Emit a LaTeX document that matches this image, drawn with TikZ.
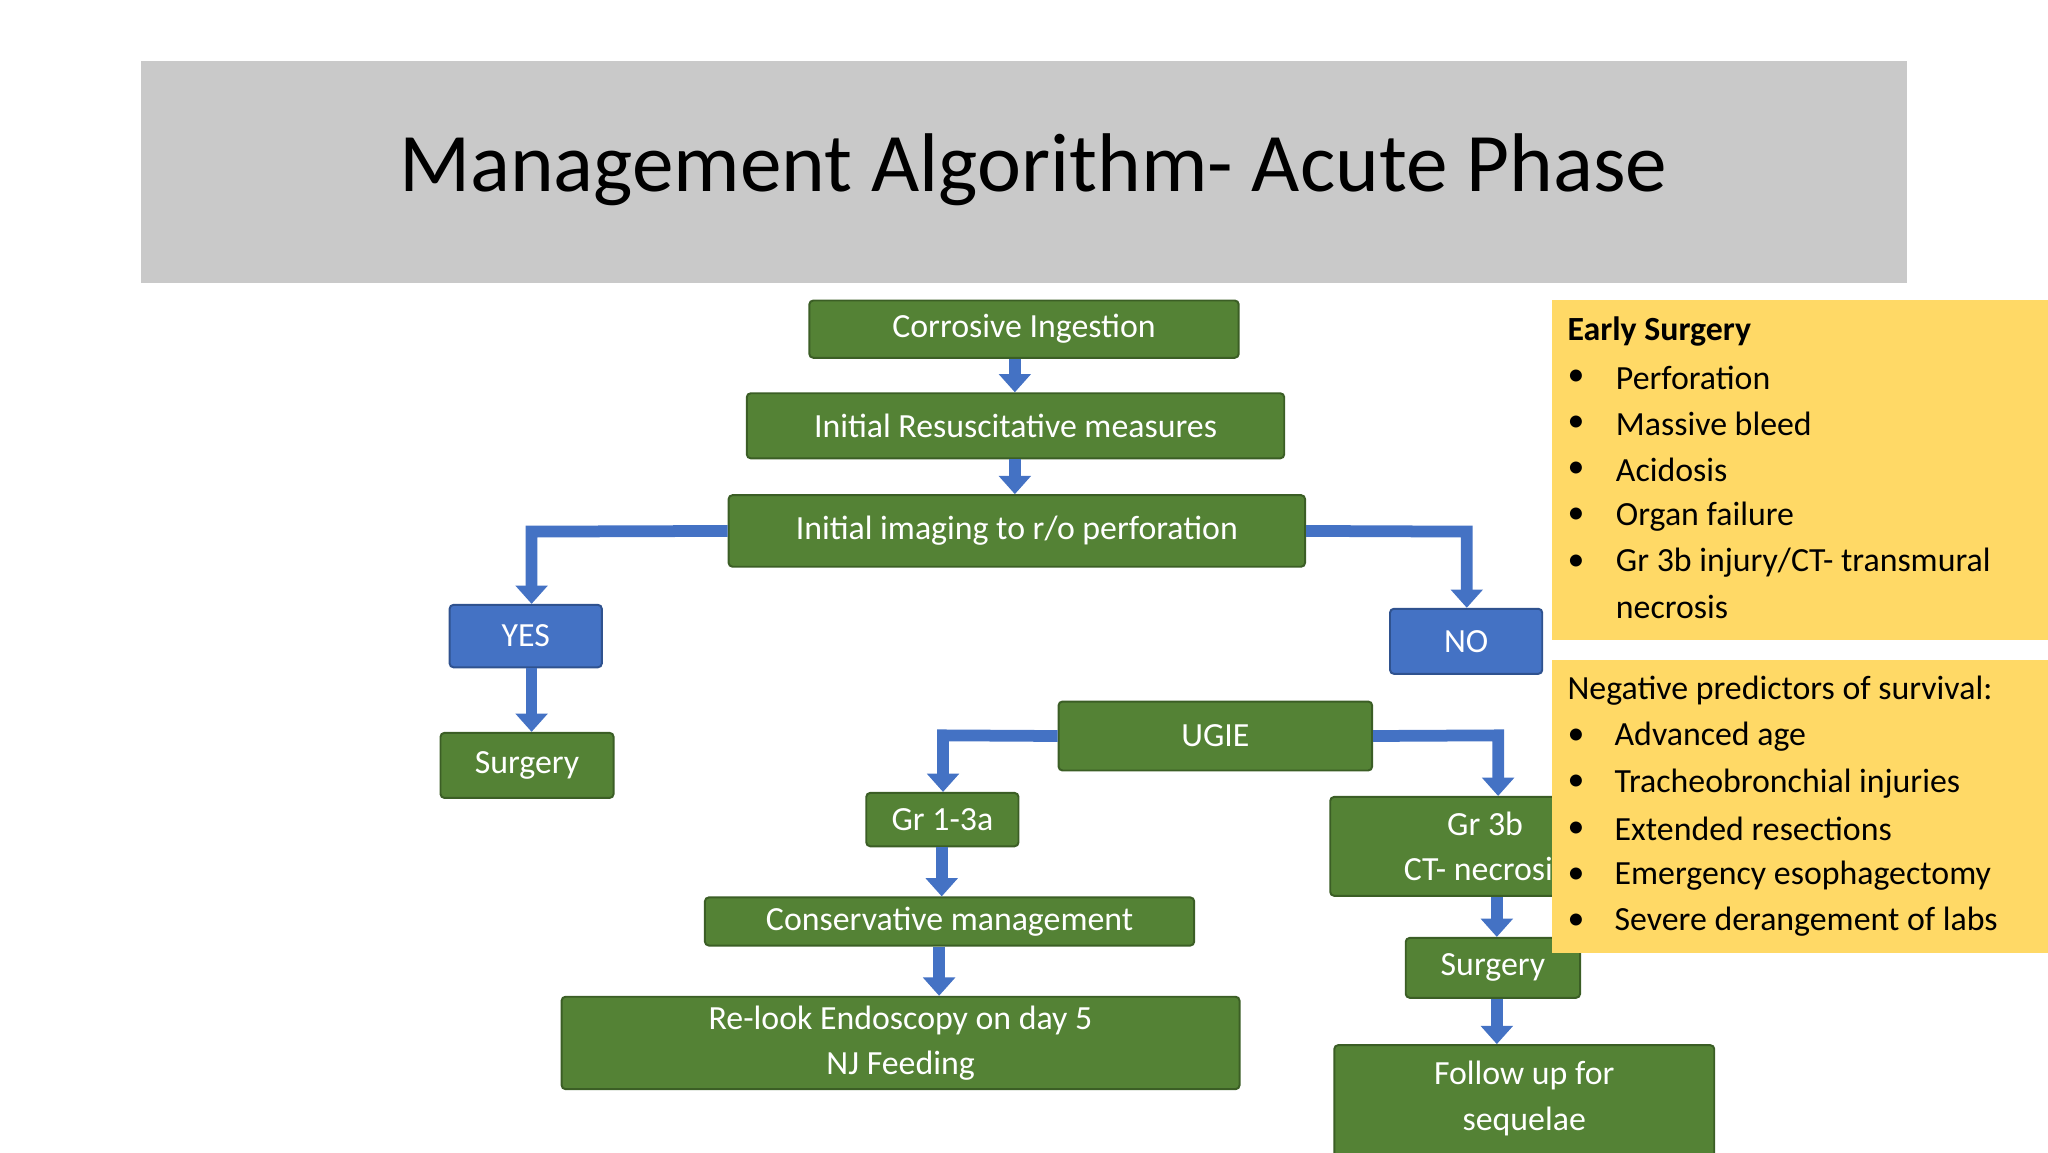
\documentclass[tikz,border=0pt]{standalone}
\usepackage{fontspec}
\setmainfont{Carlito}
\usetikzlibrary{arrows.meta}
\definecolor{gbox}{HTML}{548235}
\definecolor{gline}{HTML}{3B5E25}
\definecolor{bbox}{HTML}{4472C4}
\definecolor{bline}{HTML}{2F528F}
\definecolor{ybox}{HTML}{FFD966}
\definecolor{tbox}{HTML}{C9C9C9}
\begin{document}
\begin{tikzpicture}[x=1bp,y=-1bp,
  box/.style={draw=gline,line width=1.5bp,fill=gbox,rounded corners=3bp,text=white,font=\fontsize{26}{34}\selectfont,align=center,inner sep=0},
  bl/.style={box,draw=bline,fill=bbox},
  arr/.style={draw=bbox,line width=9bp,-{Triangle[width=24bp,length=14bp]}},
  yt/.style={anchor=west,font=\fontsize{26}{30}\selectfont,inner sep=0}]
\useasboundingbox (0,0) rectangle (1568,882);
\clip (0,0) rectangle (1568,882);
\fill[tbox] (108,47) rectangle (1460,217);
\node[font=\fontsize{64}{70}\selectfont] (title) at (791,130) {Management Algorithm- Acute Phase};
\newcommand{\bx}[6]{\node[#1,minimum width=#4-#2,minimum height=#5-#3] (#6) at ({(#2+#4)/2},{(#3+#5)/2}) {};}
\bx{box}{619}{230}{949}{274}{ci} \node[text=white,font=\fontsize{26}{34}\selectfont] at (ci) {Corrosive Ingestion};
\bx{box}{571}{301}{984}{351}{ir} \node[text=white,font=\fontsize{26}{34}\selectfont] at (ir) {Initial Resuscitative measures};
\bx{box}{557}{379}{1000}{434}{im} \node[text=white,font=\fontsize{26}{34}\selectfont] at (im) {Initial imaging to r/o perforation};
\bx{bl}{344}{463}{461}{511}{yes} \node[text=white,font=\fontsize{26}{34}\selectfont] at (yes) {YES};
\bx{bl}{1064}{466}{1181}{516}{no} \node[text=white,font=\fontsize{26}{34}\selectfont] at (no) {NO};
\bx{box}{337}{561}{470}{611}{s1} \node[text=white,font=\fontsize{26}{34}\selectfont] at (s1) {Surgery};
\bx{box}{810}{537}{1051}{590}{ugie} \node[text=white,font=\fontsize{26}{34}\selectfont] at (ugie) {UGIE};
\bx{box}{663}{607}{780}{648}{g1} \node[text=white,font=\fontsize{26}{34}\selectfont] at (g1) {Gr 1-3a};
\bx{box}{1018}{610}{1256}{686}{g3} \node[text=white,font=\fontsize{26}{34}\selectfont,align=center] at (g3) {Gr 3b\\CT- necrosis};
\bx{box}{539}{687}{915}{724}{cm} \node[text=white,font=\fontsize{26}{34}\selectfont] at (cm) {Conservative management};
\bx{box}{429}{763}{950}{834}{rl} \node[text=white,font=\fontsize{26}{35}\selectfont,align=center] at (rl) {Re-look Endoscopy on day 5\\NJ Feeding};
\bx{box}{1076}{718}{1210}{764}{s2} \node[text=white,font=\fontsize{26}{34}\selectfont] at (s2) {Surgery};
\bx{box}{1021}{800}{1313}{895}{fu} \node[text=white,font=\fontsize{26}{35}\selectfont,align=center] at (1167,841) {Follow up for\\sequelae};
% arrows
\draw[arr] (ci.south -| 777,0) -- (ir.north -| 777,0);
\draw[arr] (ir.south -| 777,0) -- (im.north -| 777,0);
\draw[arr] (im.west) -- (407,407) -- (yes.north -| 407,0);
\draw[arr] (im.east) -- (1123,407) -- (no.north -| 1123,0);
\draw[arr] (yes.south -| 407,0) -- (s1.north -| 407,0);
\draw[arr] (ugie.west) -- (722,563) -- (g1.north -| 722,0);
\draw[arr] (ugie.east) -- (1147,563) -- (g3.north -| 1147,0);
\draw[arr] (g1.south -| 721,0) -- (cm.north -| 721,0);
\draw[arr] (cm.south -| 719,0) -- (rl.north -| 719,0);
\draw[arr] (g3.south -| 1146,0) -- (s2.north -| 1146,0);
\draw[arr] (s2.south -| 1146,0) -- (fu.north -| 1146,0);
% yellow boxes
\fill[ybox] (1188,230) rectangle (1568,490);
\fill[ybox] (1188,505) rectangle (1568,730);
\node[yt,font=\bfseries\fontsize{26}{30}\selectfont] (es) at (1200,254) {Early Surgery};
\foreach \t [count=\i] in {Perforation,Massive bleed,Acidosis,Organ failure,Gr 3b injury/CT- transmural}{
  \node[yt] (ea\i) at (1237,{254+35.3*\i}) {\t};
  \node[yt] (eb\i) at (1200,{254+35.3*\i}) {•};}
\node[yt] (nec) at (1237,465) {necrosis};
\node[yt] (np) at (1200,529) {Negative predictors of survival:};
\foreach \t [count=\i] in {Advanced age,Tracheobronchial injuries,Extended resections,Emergency esophagectomy,Severe derangement of labs}{
  \node[yt] (na\i) at (1236,{529+35.3*\i}) {\t};
  \node[yt] (nb\i) at (1200,{529+35.3*\i}) {•};}
\end{tikzpicture}
\end{document}
